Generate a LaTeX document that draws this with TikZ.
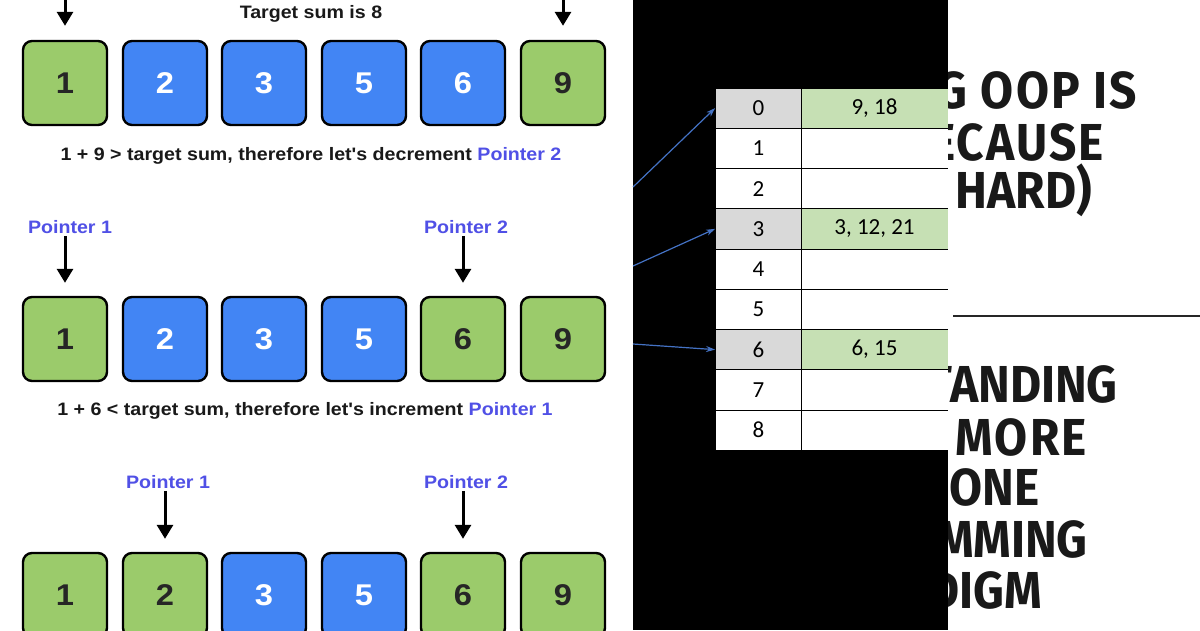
\documentclass[tikz,border=0pt]{standalone}
\usepackage{fontspec}
\setmainfont{Liberation Sans}
\newfontfamily\arialw[FakeStretch=1.09]{Liberation Sans}
\newfontfamily\calib{Carlito}
\newfontfamily\cond[FakeStretch=0.92]{Fira Sans}
\newfontfamily\condw[FakeStretch=0.92,LetterSpace=4]{Fira Sans}
\usetikzlibrary{arrows.meta}
\definecolor{gbox}{HTML}{9BCB6B}
\definecolor{bbox}{HTML}{4285F4}
\definecolor{ptr}{HTML}{5050E6}
\definecolor{hgray}{HTML}{D9D9D9}
\definecolor{hgreen}{HTML}{C6E0B4}
\definecolor{lnk}{HTML}{4472C4}
\begin{document}
\begin{tikzpicture}[x=1pt,y=-1pt,
 cellbox/.style={draw=black, line width=2.4pt, rounded corners=9pt, minimum width=84pt, minimum height=84pt, inner sep=0pt, font=\arialw\fontsize{30}{30}\selectfont\bfseries},
 gb/.style={cellbox, fill=gbox, text=black!85},
 bb/.style={cellbox, fill=bbox, text=white},
 ptrlabel/.style={text=ptr, font=\arialw\fontsize{18}{18}\selectfont\bfseries, inner sep=2pt},
 caption/.style={font=\arialw\fontsize{18}{18}\selectfont\bfseries, text=black!90},
 downarrow/.style={line width=3pt, -{Triangle[width=16pt,length=14pt]}},
 tcell/.style={draw=black, line width=0.8pt, minimum width=86pt, minimum height=40.3pt, inner sep=0pt, font=\calib\fontsize{23}{23}\selectfont},
 vcell/.style={tcell, minimum width=147pt},
 link/.style={draw=lnk, line width=1.2pt, -{Stealth[length=9pt,width=6pt]}},
 bigtxt/.style={font=\cond\fontsize{52}{52}\selectfont\bfseries, anchor=base east, inner sep=0pt, text=black!90},
 bigwide/.style={bigtxt, font=\condw\fontsize{52}{52}\selectfont\bfseries}
]
\useasboundingbox (0,0) rectangle (1200,630);
\fill[white] (0,0) rectangle (1200,630);
\fill[black] (633,0) rectangle (948,630);

% ---------- row 1 ----------
\node[caption] (t1) at (311,14) {Target sum is 8};
\node[gb] (a1) at (65,83) {1};
\node[bb] (a2) at (165,83) {2};
\node[bb] (a3) at (264,83) {3};
\node[bb] (a4) at (364,83) {5};
\node[bb] (a5) at (463,83) {6};
\node[gb] (a6) at (563,83) {9};
\coordinate (p1a) at (65,-2);
\coordinate (p2a) at (563,-2);
\draw[downarrow] (p1a) -- ([yshift=14pt]a1.north);
\draw[downarrow] (p2a) -- ([yshift=14pt]a6.north);
\node[caption] (c1) at (311,156) {1 + 9 > target sum, therefore let's decrement {\color{ptr}Pointer 2}};

% ---------- row 2 ----------
\node[ptrlabel] (l21) at (70,227) {Pointer 1};
\node[ptrlabel] (l22) at (466,227) {Pointer 2};
\node[gb] (b1) at (65,339) {1};
\node[bb] (b2) at (165,339) {2};
\node[bb] (b3) at (264,339) {3};
\node[bb] (b4) at (364,339) {5};
\node[gb] (b5) at (463,339) {6};
\node[gb] (b6) at (563,339) {9};
\draw[downarrow] (l21.south -| b1.north) -- ([yshift=13pt]b1.north);
\draw[downarrow] (l22.south -| b5.north) -- ([yshift=13pt]b5.north);
\node[caption] (c2) at (305,411) {1 + 6 < target sum, therefore let's increment {\color{ptr}Pointer 1}};

% ---------- row 3 ----------
\node[ptrlabel] (l31) at (168,482) {Pointer 1};
\node[ptrlabel] (l32) at (466,482) {Pointer 2};
\node[gb] (d1) at (65,595) {1};
\node[gb] (d2) at (165,595) {2};
\node[bb] (d3) at (264,595) {3};
\node[bb] (d4) at (364,595) {5};
\node[gb] (d5) at (463,595) {6};
\node[gb] (d6) at (563,595) {9};
\draw[downarrow] (l31.south -| d2.north) -- ([yshift=13pt]d2.north);
\draw[downarrow] (l32.south -| d5.north) -- ([yshift=13pt]d5.north);

% ---------- hash table ----------
\foreach \i/\v/\hl in {0/{9, 18}/1,1//0,2//0,3/{3, 12, 21}/1,4//0,5//0,6/{6, 15}/1,7//0,8//0}{
  \pgfmathsetmacro{\yy}{88+40.25*(\i+0.5)}
  \ifnum\hl=1
    \node[tcell, fill=hgray] (k\i) at (758.5,\yy) {\i};
    \node[vcell, fill=hgreen] (v\i) at (874.5,\yy) {\v};
  \else
    \node[tcell, fill=white] (k\i) at (758.5,\yy) {\i};
    \node[vcell, fill=white] (v\i) at (874.5,\yy) {\v};
  \fi
}
\coordinate (s0) at (633,187);
\coordinate (s3) at (633,266);
\coordinate (s6) at (633,344);
\draw[link] (s0) -- (k0.west);
\draw[link] (s3) -- (k3.west);
\draw[link] (s6) -- (k6.west);

% ---------- right panel ----------
\fill[white] (948,0) rectangle (1200,630);
\begin{scope}
\clip (948,0) rectangle (1200,630);
\node[bigwide] (r1) at (1137,108) {NG OOP IS};
\node[bigwide] (r2) at (1104,160) {BECAUSE};
\node[bigtxt] (r3) at (1092,208) {HARD)};
\node[bigtxt] (r4) at (1118,402) {STANDING};
\node[bigwide] (r5) at (1087,455) {IS MORE};
\node[bigtxt] (r6) at (1040,505) {ONE};
\node[bigtxt] (r7) at (1088,557) {MMING};
\node[bigtxt] (r8) at (1042,608) {DIGM};
\end{scope}
\draw[line width=2.5pt, black!85] (953,316) -- (1200,316);
\end{tikzpicture}
\end{document}
